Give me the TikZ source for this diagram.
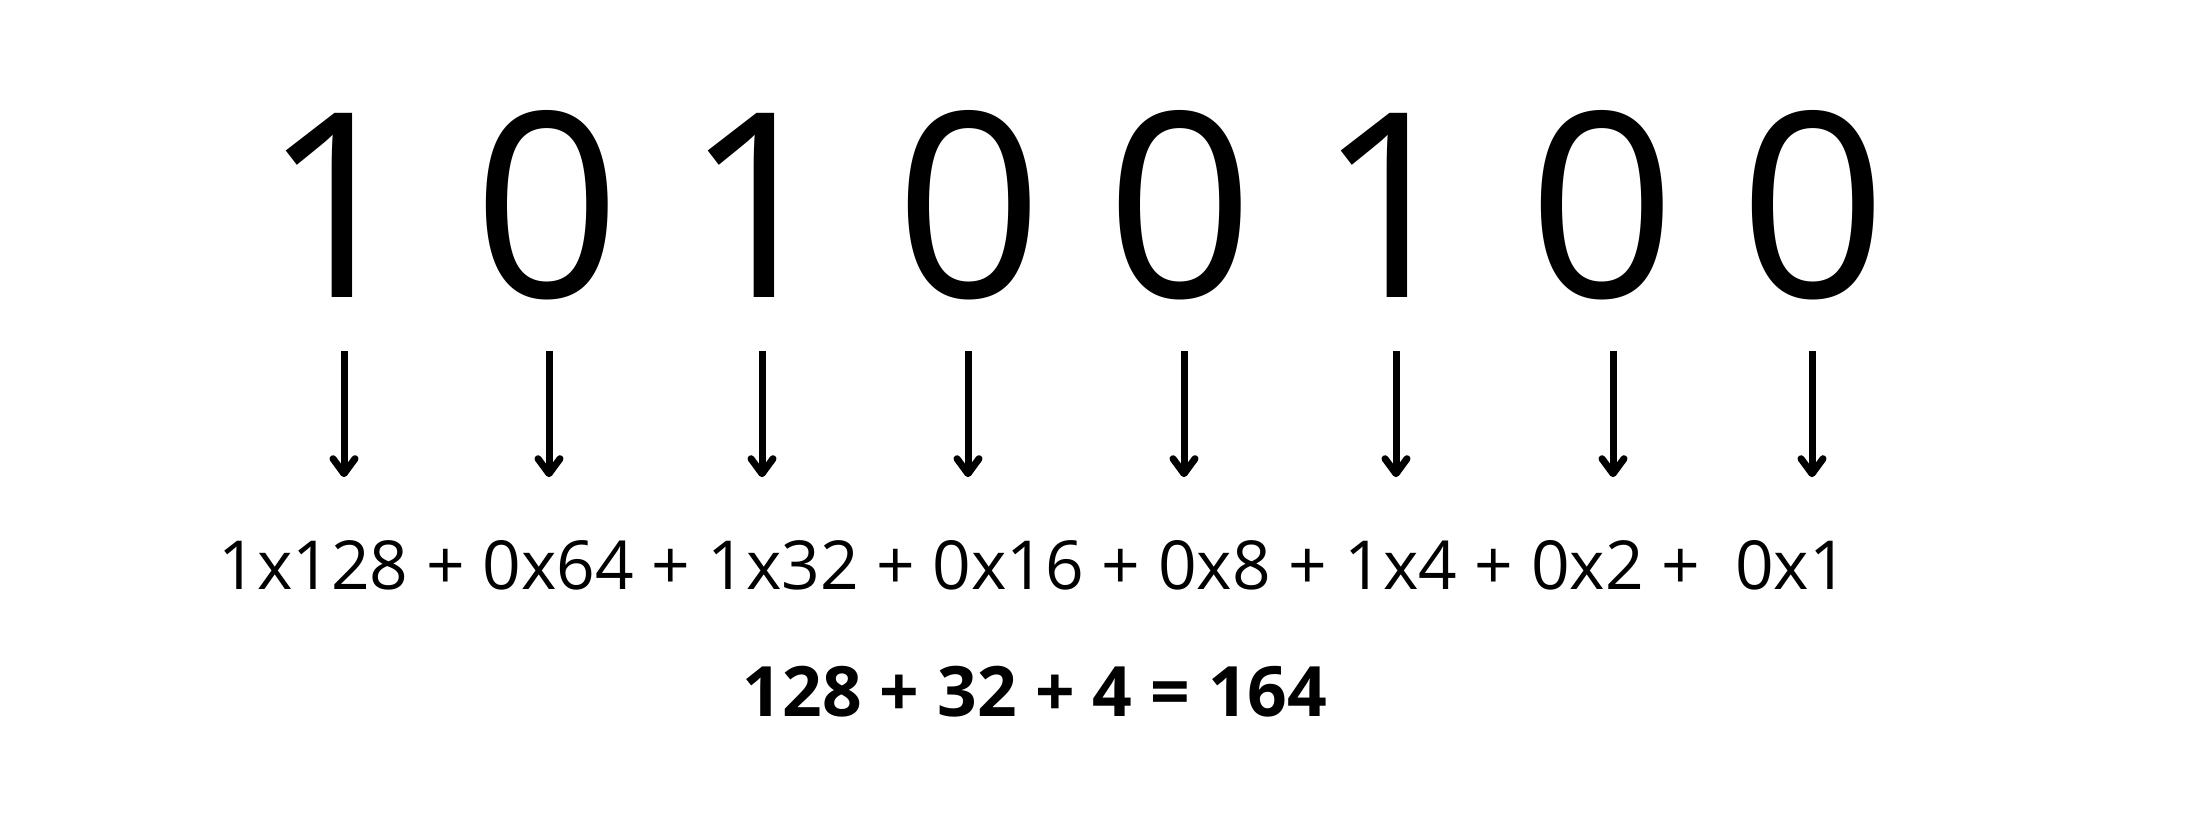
\documentclass[tikz,border=0pt]{standalone}
\usepackage{fontspec}
\setmainfont{Open Sans}
\usetikzlibrary{arrows.meta,positioning}
\tikzstyle{bit}=[inner sep=0pt,font=\fontsize{258}{258}\selectfont,
text height=184pt,text depth=0pt]
\tikzstyle{weight}=[inner sep=0pt,anchor=base,font=\fontsize{67.6}{70}\selectfont]
\tikzstyle{total}=[inner sep=0pt,anchor=base,font=\fontsize{69.5}{72}\selectfont\bfseries]
\tikzstyle{bitarrow}=[line width=7pt,-{Straight Barb[length=15pt,width=22pt,round]}]

\begin{document}
\begin{tikzpicture}[x=1pt,y=1pt,node distance=211pt]
            \useasboundingbox (0,0) rectangle (2203,-838);

            % BITS

            \node[bit] (d1) at (336,-205) {1};
            \node[bit,right of=d1] (d2) {0};
            \node[bit,right of=d2] (d3) {1};
            \node[bit,right of=d3] (d4) {0};
            \node[bit,right of=d4] (d5) {0};
            \node[bit,right of=d5] (d6) {1};
            \node[bit,right of=d6] (d7) {0};
            \node[bit,right of=d7] (d8) {0};

            % ARROWS

            \coordinate[below=54pt of d1.south,xshift=8pt] (s1);
            \coordinate[below=54pt of d2.south,xshift=2pt] (s2);
            \coordinate[below=54pt of d3.south,xshift=4pt] (s3);
            \coordinate[below=54pt of d4.south,xshift=-1pt] (s4);
            \coordinate[below=54pt of d5.south,xshift=4pt] (s5);
            \coordinate[below=54pt of d6.south,xshift=5pt] (s6);
            \coordinate[below=54pt of d7.south,xshift=11pt] (s7);
            \coordinate[below=54pt of d8.south,xshift=-1pt] (s8);

            \coordinate[below=126pt of s1] (e1);
            \coordinate[below=126pt of s2] (e2);
            \coordinate[below=126pt of s3] (e3);
            \coordinate[below=126pt of s4] (e4);
            \coordinate[below=126pt of s5] (e5);
            \coordinate[below=126pt of s6] (e6);
            \coordinate[below=126pt of s7] (e7);
            \coordinate[below=126pt of s8] (e8);

            \path[bitarrow] (s1) edge (e1);
            \path[bitarrow] (s2) edge (e2);
            \path[bitarrow] (s3) edge (e3);
            \path[bitarrow] (s4) edge (e4);
            \path[bitarrow] (s5) edge (e5);
            \path[bitarrow] (s6) edge (e6);
            \path[bitarrow] (s7) edge (e7);
            \path[bitarrow] (s8) edge (e8);

            % SUMS

            \node[weight] (sum) at (1033,-589) {1x128 + 0x64 + 1x32 + 0x16 + 0x8 + 1x4 + 0x2 +\ \ 0x1};
            \node[total] (res) at (1035,-716) {128 + 32 + 4 = 164};

\end{tikzpicture}
\end{document}
